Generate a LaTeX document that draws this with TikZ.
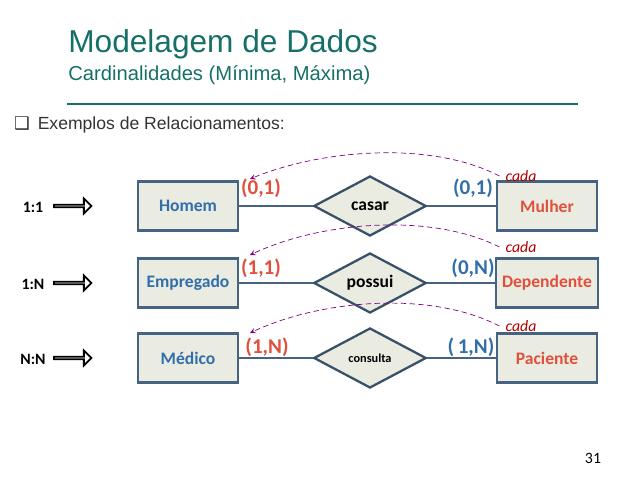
\documentclass[tikz,border=0pt]{standalone}
\usepackage{fontspec}
\setmainfont{Liberation Sans}
\newfontfamily\cali{Carlito}
\newfontfamily\djv{DejaVu Sans}
\usetikzlibrary{shapes.geometric,shapes.arrows,positioning}
\definecolor{teal1}{RGB}{22,112,104}
\definecolor{boxline}{RGB}{70,100,130}
\definecolor{boxfill}{RGB}{234,236,226}
\definecolor{entblue}{RGB}{50,110,170}
\definecolor{entred}{RGB}{225,80,60}
\tikzset{
    entity/.style={
        draw=boxline, line width=1.3pt, fill=boxfill, rectangle,
        minimum width=2cm, minimum height=0.98cm, font=\cali\bfseries
    },
    rel/.style={
        draw=boxline!80!black, line width=1.3pt, fill=boxfill, diamond, aspect=1.85,
        minimum width=2.25cm, minimum height=1.2cm, inner sep=0pt, font=\cali\bfseries
    },
    card/.style={font=\cali\bfseries\large},
    link/.style={draw=boxline, line width=1.2pt},
    tipo/.style={font=\cali\bfseries\small},
    seta/.style={draw, single arrow, single arrow head extend=2.5pt, line width=1pt,
        minimum height=0.75cm, minimum width=0.3cm, inner sep=0pt, fill=white},
    cada/.style={font=\cali\itshape\small, text=red!70!black},
    volta/.style={->, >=stealth, densely dashed, violet, thin}
}
\begin{document}
\begin{tikzpicture}[x=0.02cm,y=-0.02cm]
  \useasboundingbox (0,0) rectangle (638,479);

  % titulo
  \node[anchor=west, inner sep=0pt, text=teal1, font=\fontsize{18}{22}\selectfont] (titulo) at (68,44) {Modelagem de Dados};
  \node[anchor=west, inner sep=0pt, text=teal1, font=\fontsize{11.5}{14}\selectfont] (sub) at (68,75) {Cardinalidades (Mínima, Máxima)};
  \draw[teal1, line width=1.3pt] (67,104) -- (578,104);
  \node[anchor=west, font=\fontsize{10}{12}\selectfont, text=black!80] (bullet) at (8,125)
    {{\djv ❑}\, Exemplos de Relacionamentos:};

  % linha 1:1
  \node[tipo] (t1) at (33,207) {1:1};
  \node[seta] (s1) at (72,206) {};
  \node[entity, text=entblue] (homem) at (188,206) {Homem};
  \node[rel] (casar) at (370,206) {casar};
  \node[entity, text=entred] (mulher) at (547,206) {Mulher};
  \draw[link] (homem) -- (casar) -- (mulher);
  \node[card, text=entred] (c1a) at (261,188) {(0,1)};
  \node[card, text=entblue] (c1b) at (473,188) {(0,1)};
  \node[cada] (cada1) at (521,176) {cada};
  \draw[volta] (cada1.west) .. controls (430,140) and (320,150) .. (250,179);

  % linha 1:N
  \node[tipo] (t2) at (33,284) {1:N};
  \node[seta] (s2) at (72,283) {};
  \node[entity, text=entblue] (empregado) at (188,283) {Empregado};
  \node[rel] (possui) at (370,283) {possui};
  \node[entity, text=entred] (dependente) at (547,283) {Dependente};
  \draw[link] (empregado) -- (possui) -- (dependente);
  \node[card, text=entred] (c2a) at (261,268) {(1,1)};
  \node[card, text=entblue] (c2b) at (473,268) {(0,N)};
  \node[cada] (cada2) at (521,247) {cada};
  \draw[volta] (cada2.west) .. controls (430,212) and (320,222) .. (250,255);

  % linha N:N
  \node[tipo] (t3) at (33,359) {N:N};
  \node[seta] (s3) at (72,358) {};
  \node[entity, text=entblue] (medico) at (188,358) {Médico};
  \node[rel, font=\cali\bfseries\scriptsize] (consulta) at (370,358) {consulta};
  \node[entity, text=entred] (paciente) at (547,358) {Paciente};
  \draw[link] (medico) -- (consulta) -- (paciente);
  \node[card, text=entred] (c3a) at (267,347) {(1,N)};
  \node[card, text=entblue] (c3b) at (471,347) {(\,1,N)};
  \node[cada] (cada3) at (521,326) {cada};
  \draw[volta] (cada3.west) .. controls (430,290) and (320,300) .. (250,333);

  \node[font=\cali\small] (pag) at (593,458) {31};
\end{tikzpicture}
\end{document}
